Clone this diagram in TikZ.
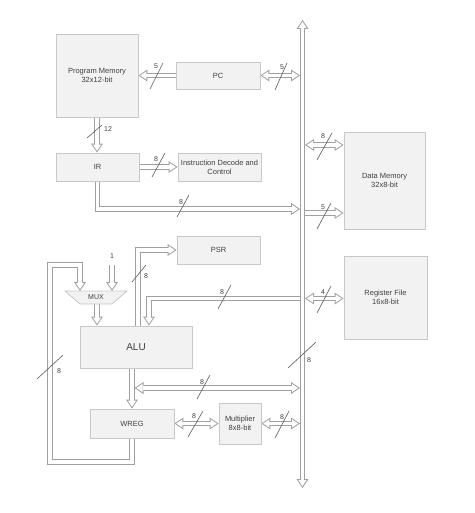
\documentclass[tikz,border=0pt]{standalone}
\usepackage{fontspec}
\setmainfont{Liberation Sans}
\usetikzlibrary{arrows.meta}
\definecolor{boxfill}{HTML}{F2F2F2}
\definecolor{boxline}{HTML}{C8C8C8}
\definecolor{ag}{HTML}{A0A0A0}
\definecolor{txt}{HTML}{404040}
\definecolor{sl}{HTML}{5A5A5A}
\pgfdeclarelayer{bg}
\pgfsetlayers{bg,main}
\tikzset{
  blk/.style={draw=boxline, fill=boxfill, line width=0.8pt, inner sep=1pt, align=center, text=txt, font=\fontsize{7.5}{9}\selectfont},
  lbl/.style={inner sep=0pt, text=txt, font=\fontsize{7}{8}\selectfont},
  slash/.style={draw=sl, line width=0.6pt},
  harr/.style={draw=ag, line width=5.5pt, line join=miter,
    -{Triangle[length=9pt,width=12pt,line width=0pt]},
    postaction={draw=white, line width=3.5pt, line join=miter, shorten >=1.8pt,
      -{Triangle[length=6.2pt,width=8.3pt,line width=0pt]}}},
  harrb/.style={draw=ag, line width=5.5pt, line join=miter,
    {Triangle[length=9pt,width=12pt,line width=0pt]}-{Triangle[length=9pt,width=12pt,line width=0pt]},
    postaction={draw=white, line width=3.5pt, line join=miter, shorten >=1.8pt, shorten <=1.8pt,
      {Triangle[length=6.2pt,width=8.3pt,line width=0pt]}-{Triangle[length=6.2pt,width=8.3pt,line width=0pt]}}},
}
\begin{document}
\begin{tikzpicture}[x=1pt,y=-1pt]
\useasboundingbox (0,0) rectangle (474,513);
% boxes
\node[blk, minimum width=82pt, minimum height=83pt] (pm) at (97,75.5) {Program Memory\\32x12-bit};
\node[blk, minimum width=84pt, minimum height=27pt] (pc) at (218,75.5) {PC};
\node[blk, minimum width=83pt, minimum height=28pt] (ir) at (97.5,167) {IR};
\node[blk, minimum width=83pt, minimum height=28pt] (idc) at (219.5,167) {Instruction Decode and\\Control};
\node[blk, minimum width=81pt, minimum height=97pt] (dm) at (384.5,180.5) {Data Memory\\32x8-bit};
\node[blk, minimum width=83pt, minimum height=83pt] (rf) at (385.5,297.5) {Register File\\16x8-bit};
\node[blk, minimum width=83pt, minimum height=28pt] (psr) at (218.5,250) {PSR};
\node[blk, minimum width=112pt, minimum height=42pt, font=\fontsize{10}{12}\selectfont] (alu) at (136,347) {ALU};
\node[blk, minimum width=84pt, minimum height=29pt] (wreg) at (132,423.5) {WREG};
\node[blk, minimum width=42pt, minimum height=41pt] (mul) at (240,423.5) {Multiplier\\8x8-bit};
% mux
\draw[draw=boxline, fill=boxfill, line width=0.8pt] (65,291) -- (127,291) -- (112,304) -- (80,304) -- cycle;
\node[lbl] (mux) at (96,297.5) {MUX};
\node[lbl] (one) at (112,256) {1};
% junction coordinates
\coordinate (bT) at (302.5,20);
\coordinate (bB) at (302.5,488);
\coordinate (jPC) at (300,75.5);
\coordinate (jIR) at (300,209);
\coordinate (jDM1) at (305,145);
\coordinate (jDM2) at (305,213);
\coordinate (jRF) at (305,298.5);
\coordinate (jALU) at (300,298.5);
\coordinate (jWB) at (300,388);
\coordinate (jW) at (134.5,388);
\coordinate (jMU) at (300,423.5);
\coordinate (oneS) at (112,265);
\coordinate (muxI1) at (80,291);
\coordinate (muxI2) at (112,291);
\coordinate (muxO) at (97,304);
\coordinate (loopA) at (50,462);
\coordinate (loopB) at (50,265);
\begin{pgfonlayer}{bg}
\draw[harr] (pc.west) -- (pm.east |- pc.west);
\draw[harrb] (pc.east) -- (jPC);
\draw[harr] (pm.south) -- (pm.south |- ir.north);
\draw[harr] (ir.east) -- (idc.west);
\draw[harr] (ir.south) |- (jIR);
\draw[harrb] (jDM1) -- (jDM1 -| dm.west);
\draw[harr] (jDM2) -- (jDM2 -| dm.west);
\draw[harrb] (jRF) -- (jRF -| rf.west);
\draw[harr] (jALU) -| ([xshift=13pt]alu.north);
\draw[harr] ([xshift=2pt]alu.north) |- (psr.west);
\draw[harr] (oneS) -- (muxI2);
\draw[harr] (muxO) -- (muxO |- alu.north);
\draw[harr] (wreg.south) |- (loopA) -- (loopB) -| (muxI1);
\draw[harr] (alu.south -| wreg.north) -- (wreg.north);
\draw[harrb] (jW) -- (jWB);
\draw[harrb] (wreg.east) -- (mul.west);
\draw[harrb] (mul.east) -- (jMU);
\draw[harrb] (bT) -- (bB);
\end{pgfonlayer}
% bus width slashes and labels
\draw[slash] (150,89) -- (163,63);   \node[lbl] (l1) at (156,66) {5};
\draw[slash] (275,90) -- (287,63);   \node[lbl] (l2) at (282,67) {5};
\draw[slash] (87,138) -- (102,125);  \node[lbl] (l3) at (108,129) {12};
\draw[slash] (152,177) -- (165,153); \node[lbl] (l4) at (156,159) {8};
\draw[slash] (177,217) -- (189,195); \node[lbl] (l5) at (181,202) {8};
\draw[slash] (317,160) -- (332,133); \node[lbl] (l6) at (323,136) {8};
\draw[slash] (317,229) -- (331,203); \node[lbl] (l7) at (323,207) {5};
\draw[slash] (218,309) -- (231,285); \node[lbl] (l8) at (222,292) {8};
\draw[slash] (317,313) -- (331,286); \node[lbl] (l9) at (323,292) {4};
\draw[slash] (132,282) -- (146,265); \node[lbl] (l10) at (146,276) {8};
\draw[slash] (37,379) -- (63,355);   \node[lbl] (l11) at (59,371) {8};
\draw[slash] (197,399) -- (210,375); \node[lbl] (l12) at (202,382) {8};
\draw[slash] (188,437) -- (203,411); \node[lbl] (l13) at (194,416) {8};
\draw[slash] (275,438) -- (289,411); \node[lbl] (l14) at (282,417) {8};
\draw[slash] (288,368) -- (316,342); \node[lbl] (l15) at (309,360) {8};
\end{tikzpicture}
\end{document}
